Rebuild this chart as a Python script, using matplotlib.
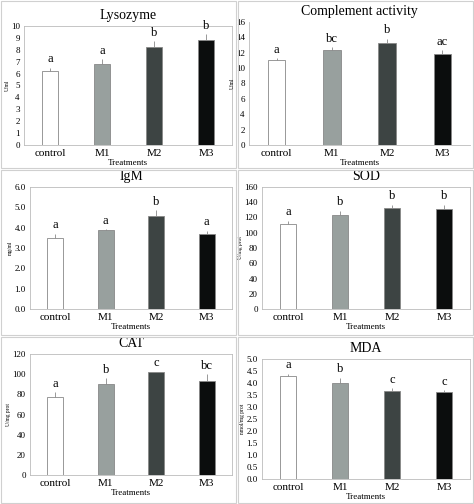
import matplotlib.pyplot as plt
from matplotlib.patches import Rectangle

plt.rcParams['font.family'] = ['Liberation Serif', 'DejaVu Serif']

groups = ['control', 'M1', 'M2', 'M3']
colors = ['white', '#98a09e', '#3d4443', '#0b0d0d']

titles = ['Lysozyme', 'Complement activity', 'IgM', 'SOD', 'CAT', 'MDA']
ylabels = ['U/ml', 'U/ml', 'mg/ml', 'U/mg prot', 'U/mg prot', 'nmol/mg prot']
lyso = [6.2, 6.8, 8.2, 8.8]
lyso_err = [0.3, 0.4, 0.5, 0.5]
comp = [11.0, 12.4, 13.3, 11.8]
comp_err = [0.3, 0.3, 0.5, 0.5]
igm = [3.5, 3.87, 4.57, 3.7]
igm_err = [0.2, 0.05, 0.3, 0.15]
sod = [112, 123, 133, 131]
sod_err = [4, 6, 4, 6]
cat = [77, 90, 102, 93]
cat_err = [5, 6, 0.5, 7]
mda = [4.28, 4.02, 3.68, 3.62]
mda_err = [0.1, 0.2, 0.1, 0.08]
letters = [['a', 'a', 'b', 'b'], ['a', 'bc', 'b', 'ac'], ['a', 'a', 'b', 'a'],
           ['a', 'b', 'b', 'b'], ['a', 'b', 'c', 'bc'], ['a', 'b', 'c', 'c']]
values = [lyso, comp, igm, sod, cat, mda]
errors = [lyso_err, comp_err, igm_err, sod_err, cat_err, mda_err]
ymax = [10, 16, 6, 160, 120, 5]
ystep = [1, 2, 1, 20, 20, 0.5]
yfmt = ['{:.0f}', '{:.0f}', '{:.1f}', '{:.0f}', '{:.0f}', '{:.1f}']
boxed = [True, False, True, True, True, True]

W, H = 474, 504
fig = plt.figure(figsize=(W / 100, H / 100), dpi=100)

# axes boxes in pixels: left, top, right, bottom
boxes = [(24, 26, 232, 145), (249, 22, 470, 145),
         (30, 187, 232, 309), (262, 187, 470, 309),
         (30, 354, 232, 475), (262, 359, 470, 479)]
panels = [(1, 1, 236, 168), (238, 1, 473, 168),
          (1, 170, 236, 335), (238, 170, 473, 335),
          (1, 337, 236, 503), (238, 337, 473, 503)]

for (l, t, r, b) in panels:
    fig.add_artist(Rectangle((l / W, 1 - b / H), (r - l) / W, (b - t) / H,
                             transform=fig.transFigure, fill=False,
                             edgecolor='#d0d0d0', lw=0.8))

for i in range(6):
    l, t, r, b = boxes[i]
    ax = fig.add_axes([l / W, 1 - b / H, (r - l) / W, (b - t) / H])
    x = range(4)
    ax.bar(x, values[i], width=0.32, color=colors, edgecolor='#888888', lw=0.6)
    ax.errorbar(x, values[i], yerr=[[0] * 4, errors[i]], fmt='none',
                ecolor='#888888', elinewidth=0.6, capsize=0)
    for j in range(4):
        ax.text(j, values[i][j] + errors[i][j] + ymax[i] * 0.02, letters[i][j],
                ha='center', va='bottom', fontsize=9)
    ax.set_ylim(0, ymax[i])
    ax.set_xlim(-0.5, 3.5)
    n = int(round(ymax[i] / ystep[i]))
    ticks = [k * ystep[i] for k in range(n + 1)]
    ax.set_yticks(ticks)
    ax.set_yticklabels([yfmt[i].format(v) for v in ticks], fontsize=6.5)
    ax.set_xticks(list(x))
    ax.set_xticklabels(groups, fontsize=8)
    ax.tick_params(length=0, pad=3)
    ax.set_ylabel(ylabels[i], fontsize=4, labelpad=1)
    ax.set_title(titles[i], fontsize=10, pad=5)
    ax.annotate('Treatments', xy=(0.5, 0), xycoords='axes fraction',
                xytext=(0, -10), textcoords='offset points',
                ha='center', va='top', fontsize=6.5)
    for side in ['top', 'right', 'left', 'bottom']:
        ax.spines[side].set_color('#bbbbbb')
        ax.spines[side].set_linewidth(0.6)
    if not boxed[i]:
        ax.spines['top'].set_visible(False)
        ax.spines['right'].set_visible(False)

fig.savefig('out.png', dpi=100)
